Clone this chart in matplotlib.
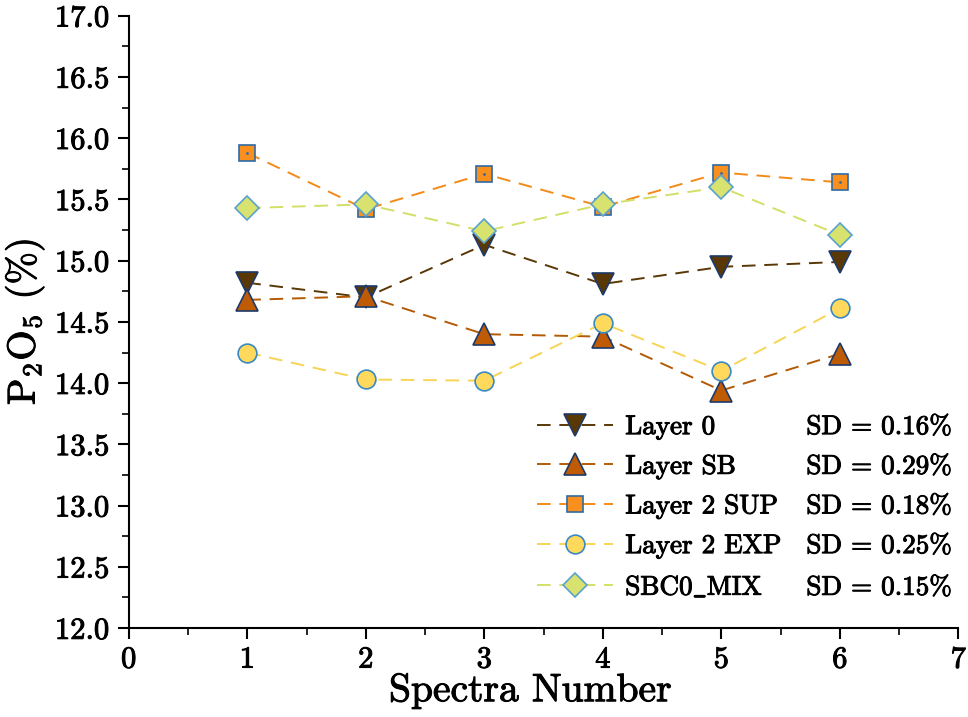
import matplotlib
matplotlib.use('Agg')
import matplotlib.pyplot as plt
import matplotlib.patheffects as pe
import numpy as np

# data
spectra = [1, 2, 3, 4, 5, 6]
layer0 = [14.82, 14.70, 15.13, 14.81, 14.95, 14.99]
layer_sb = [14.68, 14.71, 14.40, 14.38, 13.94, 14.24]
layer2_sup = [15.88, 15.42, 15.71, 15.44, 15.72, 15.64]
layer2_exp = [14.25, 14.03, 14.02, 14.49, 14.10, 14.61]
sbc0_mix = [15.43, 15.46, 15.24, 15.46, 15.60, 15.21]

names = ['Layer 0', 'Layer SB', 'Layer 2 SUP', 'Layer 2 EXP', r'$\mathrm{SBC0\_MIX}$']
sd_labels = ['SD = 0.16%', 'SD = 0.29%', 'SD = 0.18%', 'SD = 0.25%', 'SD = 0.15%']

plt.rcParams['font.family'] = ['cmr10', 'DejaVu Serif']
plt.rcParams['mathtext.fontset'] = 'cm'
plt.rcParams['axes.unicode_minus'] = False

# the reference text is rendered a bit heavier than plain cmr10
heavy = [pe.withStroke(linewidth=0.7, foreground='black')]

fig = plt.figure(figsize=(9.68, 7.17), dpi=100)
ax = fig.add_axes([0.133, 0.124, 0.857, 0.854])

dash = (0, (7, 4.5))
styles = [
    # marker, size, face, edge, line
    ('v', 16, '#5a3806', '#1d3a6b', '#5a3806'),
    ('^', 16, '#bf5b04', '#1d3a6b', '#b35a06'),
    ('s', 12, '#f98f1c', '#2f6aa6', '#f48a18'),
    ('o', 13.5, '#ffd95c', '#3a89c2', '#f7d453'),
    ('D', 12, '#d7e36e', '#5aa2cf', '#d3df68'),
]
series = [layer0, layer_sb, layer2_sup, layer2_exp, sbc0_mix]

handles = []
for vals, name, (mk, ms, fc, ec, lc) in zip(series, names, styles):
    h, = ax.plot(spectra, vals, linestyle=dash, color=lc, lw=1.4,
                 marker=mk, markersize=ms, markerfacecolor=fc,
                 markeredgecolor=ec, markeredgewidth=1.2, label=name)
    handles.append(h)
    if mk == 's':
        ax.plot(spectra, vals, linestyle='none', marker='.', markersize=2,
                color='#2f6aa6')

ax.set_xlim(0, 7)
ax.set_ylim(12, 17)
ax.set_xticks(np.arange(0, 8, 1))
ax.set_xticks(np.arange(0.5, 7, 1), minor=True)
ax.set_yticks(np.arange(12, 17.01, 0.5))
ax.set_yticks(np.arange(12.25, 17, 0.5), minor=True)
ax.yaxis.set_major_formatter(matplotlib.ticker.FormatStrFormatter('%.1f'))

for s in ['top', 'right']:
    ax.spines[s].set_visible(False)
for s in ['left', 'bottom']:
    ax.spines[s].set_linewidth(1.5)
ax.tick_params(which='major', direction='out', length=8, width=1.5, labelsize=22)
ax.tick_params(axis='x', which='major', pad=5)
ax.tick_params(axis='y', which='major', pad=6)
ax.tick_params(which='minor', direction='out', length=5, width=1.2)
for lab in ax.get_xticklabels() + ax.get_yticklabels():
    lab.set_path_effects(heavy)

ax.set_xlabel('Spectra Number', fontsize=28.5, path_effects=heavy)
ax.xaxis.set_label_coords(0.484, -0.072)
ax.set_ylabel(r'$\mathrm{P_2O_5}$ (%)', fontsize=28, labelpad=6, path_effects=heavy)

leg = ax.legend(handles=handles, loc='upper left', bbox_to_anchor=(0.555, 0.421),
                bbox_transform=fig.transFigure, frameon=False, fontsize=19.5,
                handlelength=2.8, handletextpad=0.45, labelspacing=0.58,
                borderpad=0, borderaxespad=0)
for t in leg.get_texts():
    t.set_path_effects(heavy)

# SD values placed beside each legend row, on the same baseline
fig.canvas.draw()
inv = fig.transFigure.inverted()
for t, sd in zip(leg.get_texts(), sd_labels):
    y = t.get_transform().transform(t.get_position())[1]
    y = inv.transform((0, y))[1]
    fig.text(0.833, y, sd, fontsize=19.5, va='baseline', ha='left', path_effects=heavy)

fig.savefig('out.png', dpi=100)
